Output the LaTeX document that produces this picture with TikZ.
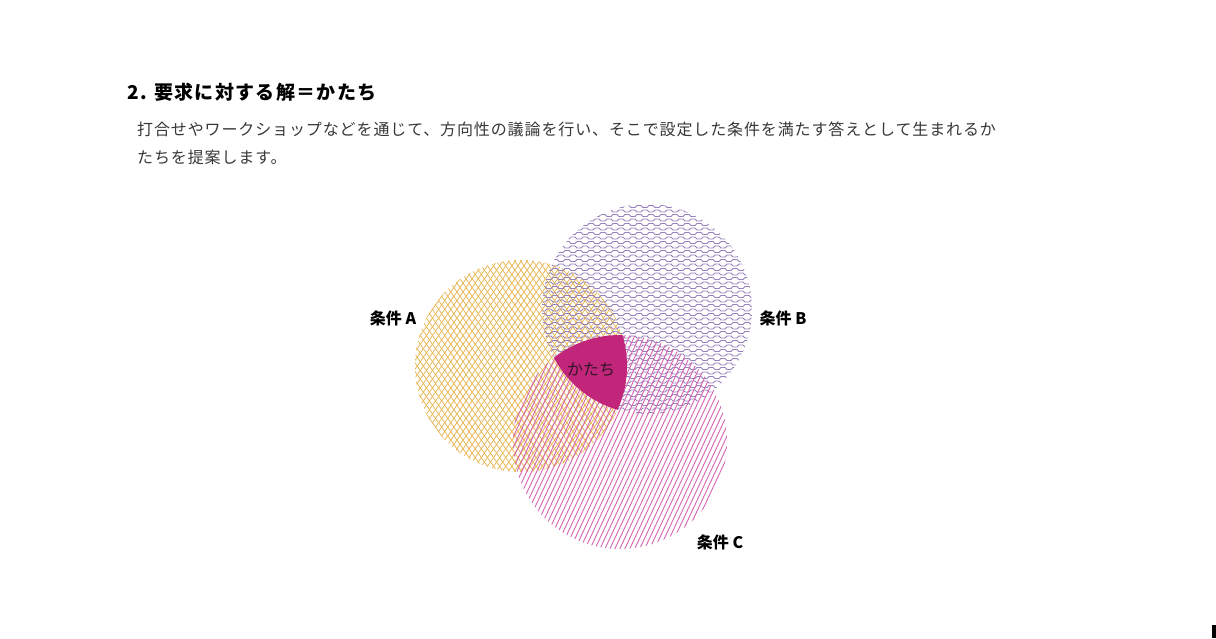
\documentclass[tikz,border=0pt]{standalone}
\usepackage{fontspec}
\setmainfont{Noto Sans CJK JP}
\newfontfamily\titlefont[LetterSpace=7]{Noto Sans CJK JP}
\newfontfamily\bodyfont[LetterSpace=5.5]{Noto Sans CJK JP}
\definecolor{condA}{RGB}{232,184,88}
\definecolor{condB}{RGB}{148,128,188}
\definecolor{condC}{RGB}{212,100,178}
\definecolor{kata}{RGB}{193,38,122}
\definecolor{bodygray}{RGB}{55,55,55}
\begin{document}
\begin{tikzpicture}[x=1pt,y=-1pt,
  hatchA/.style={condA,line width=0.8pt},
  hatchB/.style={condB,line width=0.8pt},
  hatchC/.style={condC,line width=0.9pt},
  condlabel/.style={font=\bfseries\fontsize{16}{18}\selectfont},
  titletext/.style={anchor=base west,inner sep=0pt,font=\titlefont\bfseries\fontsize{19}{22}\selectfont},
  bodytext/.style={anchor=base west,inner sep=0pt,text=bodygray,font=\bodyfont\fontsize{16}{18}\selectfont}]
\useasboundingbox (0,0) rectangle (1216,638);
\coordinate (A) at (521,366);
\coordinate (B) at (647,309);
\coordinate (C) at (620,442);
% condition A: cross hatch
\begin{scope}[shift={(A)}]
\clip (0,0) circle (106);
\foreach \i in {-24,...,24} {
  \draw[hatchA,rotate=35] (\i*5,-120) -- (\i*5,120);
  \draw[hatchA,rotate=-35] (\i*5,-120) -- (\i*5,120);
}
\end{scope}
% condition B: honeycomb rows
\begin{scope}[shift={(B)}]
\clip (0,0) circle (105);
\foreach \j [evaluate=\j as \y using \j*9] in {-12,...,12} {
  \draw[hatchB] (-126,\y) \foreach \k in {-10,...,9} {
    -- ({\k*12},\y) -- ({\k*12+2},{\y+2}) -- ({\k*12+6},{\y+2}) -- ({\k*12+8},\y) };
  \draw[hatchB] (-126,\y+4.5) \foreach \k in {-10,...,9} {
    -- ({\k*12+6},{\y+4.5}) -- ({\k*12+8},{\y+6.5}) -- ({\k*12+12},{\y+6.5}) -- ({\k*12+14},{\y+4.5}) };
}
\end{scope}
% condition C: slanted lines
\begin{scope}[shift={(C)}]
\clip (0,0) circle (107);
\foreach \i in {-26,...,26} {
  \draw[hatchC,rotate=-25] (\i*4.5,-120) -- (\i*4.5,120);
}
\end{scope}
% all three
\begin{scope}
\clip (A) circle (106);
\clip (B) circle (105);
\fill[kata] (C) circle (107);
\end{scope}
\node[titletext] (title) at (127,99) {2. 要求に対する解＝かたち};
\node[bodytext] (line1) at (137,135) {打合せやワークショップなどを通じて、方向性の議論を行い、そこで設定した条件を満たす答えとして生まれるか};
\node[bodytext] (line2) at (137,163) {たちを提案します。};
\node[condlabel] (labA) at (393,318) {条件 A};
\node[condlabel] (labB) at (783,318) {条件 B};
\node[condlabel] (labC) at (720,542) {条件 C};
\node[text={rgb,255:red,50;green,20;blue,40},font=\fontsize{16}{18}\selectfont] (kata) at (591,370) {かたち};
\fill (1212,625) rectangle (1216,638);
\end{tikzpicture}
\end{document}
